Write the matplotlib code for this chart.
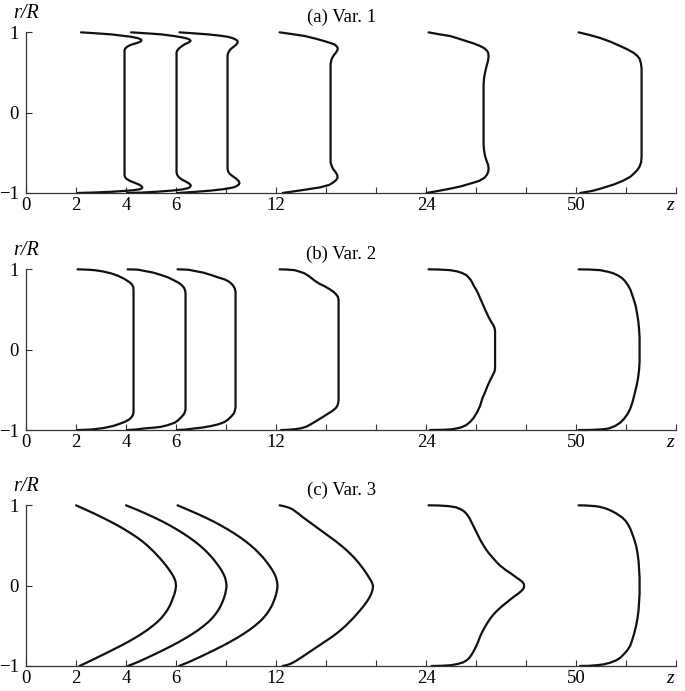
import matplotlib.pyplot as plt

plt.rcParams['font.family'] = ['Liberation Serif', 'DejaVu Serif']

# z stations, placed one tick apart on the drawn axis
stations = [1, 2, 3, 5, 8, 11]
tick_pos = [0, 1, 2, 3, 5, 8, 11]
tick_text = ['0', '2', '4', '6', '12', '24', '50']

# ---- (a) Var. 1 : profiles (r/R, velocity offset) ----
a1_r = [1, .99, .975, .96, .945, .93, .915, .9, .885, .87, .855, .84, .82, .8, .78, 0,
        -.78, -.8, -.82, -.85, -.87, -.89, -.91, -.93, -.945, -.955, -.965, -.975, -.985, -.993, -1]
a1_u = [.1, .35, .7, .9, 1.1, 1.22, 1.29, 1.31, 1.29, 1.23, 1.15, 1.08, 1.02, .985, .97, .97,
        .97, .98, 1.0, 1.08, 1.16, 1.24, 1.3, 1.325, 1.31, 1.26, 1.15, .95, .7, .4, .03]
a2_r = [1, .99, .975, .955, .94, .925, .91, .895, .88, .865, .85, .825, .8, .775, .75, 0,
        -.74, -.77, -.8, -.83, -.86, -.885, -.905, -.925, -.94, -.955, -.97, -.985, -.995, -1]
a2_u = [.1, .35, .7, .95, 1.1, 1.21, 1.27, 1.29, 1.27, 1.22, 1.17, 1.11, 1.06, 1.025, 1.01, 1.01,
        1.01, 1.02, 1.05, 1.11, 1.2, 1.27, 1.295, 1.28, 1.24, 1.13, .92, .6, .3, .03]
a3_r = [1, .99, .975, .96, .945, .93, .915, .9, .885, .865, .845, .82, .79, .76, .73, .7, 0,
        -.7, -.73, -.76, -.79, -.82, -.85, -.875, -.895, -.915, -.93, -.95, -.97, -.985, -1]
a3_u = [.07, .3, .63, .86, 1.03, 1.12, 1.18, 1.22, 1.235, 1.225, 1.2, 1.15, 1.09, 1.055, 1.035, 1.03, 1.03,
        1.03, 1.04, 1.07, 1.13, 1.2, 1.25, 1.27, 1.255, 1.21, 1.15, .98, .7, .4, .03]
a4_r = [1, .98, .955, .92, .89, .865, .845, .82, .8, .775, .75, .72, .68, .64, .6, 0,
        -.62, -.66, -.7, -.74, -.78, -.81, -.84, -.87, -.9, -.93, -.96, -.98, -1]
a4_u = [.07, .3, .57, .8, .97, 1.1, 1.18, 1.22, 1.235, 1.225, 1.2, 1.16, 1.12, 1.1, 1.09, 1.09,
        1.09, 1.11, 1.14, 1.19, 1.225, 1.23, 1.2, 1.14, 1.06, .88, .57, .35, .13]
a5_r = [1, .975, .954, .92, .89, .86, .83, .8, .77, .74, .7, .65, .58, .5, .43, .35, 0,
        -.4, -.47, -.54, -.6, -.65, -.69, -.73, -.77, -.81, -.85, -.88, -.92, -.95, -.97, -.99, -1]
a5_u = [.05, .27, .48, .66, .81, .96, 1.08, 1.17, 1.22, 1.245, 1.25, 1.24, 1.21, 1.18, 1.16, 1.15, 1.15,
        1.15, 1.16, 1.18, 1.21, 1.24, 1.25, 1.245, 1.22, 1.17, 1.06, .9, .68, .45, .28, .1, .01]
a6_r = [1, .97, .93, .88, .83, .79, .745, .71, .67, .62, .55, .45, 0,
        -.55, -.62, -.67, -.71, -.75, -.8, -.85, -.895, -.94, -.97, -.99, -1]
a6_u = [.05, .25, .48, .7, .88, 1.02, 1.15, 1.22, 1.27, 1.295, 1.31, 1.31, 1.31,
        1.31, 1.3, 1.27, 1.23, 1.17, 1.08, .93, .75, .52, .35, .18, .08]

# ---- (b) Var. 2 ----
b1_r = [1, .998, .995, .99, .975, .95, .92, .88, .84, .81, .78, .74, 0,
        -.78, -.81, -.84, -.87, -.9, -.93, -.95, -.975, -.99, -.997, -1]
b1_u = [.03, .15, .25, .37, .53, .7, .84, .97, 1.07, 1.12, 1.145, 1.15, 1.15,
        1.15, 1.14, 1.11, 1.06, .97, .84, .74, .55, .37, .2, .03]
b2_r = [1, .998, .995, .98, .96, .93, .9, .86, .83, .8, .77, .74, .7, 0,
        -.74, -.77, -.8, -.83, -.85, -.88, -.91, -.94, -.96, -.97, -.98, -.995, -1]
b2_u = [.03, .15, .25, .37, .54, .7, .84, .97, 1.06, 1.12, 1.16, 1.18, 1.19, 1.19,
        1.19, 1.18, 1.16, 1.12, 1.09, 1.04, .97, .83, .7, .57, .37, .18, .03]
b3_r = [1, .998, .995, .98, .96, .93, .9, .875, .85, .825, .8, .76, .72, 0,
        -.72, -.76, -.79, -.82, -.84, -.87, -.9, -.93, -.95, -.97, -.98, -.995, -1]
b3_u = [.03, .15, .25, .37, .54, .7, .84, .97, 1.05, 1.1, 1.14, 1.175, 1.19, 1.19,
        1.19, 1.175, 1.16, 1.12, 1.09, 1.04, .97, .84, .7, .52, .37, .18, .03]
b4_r = [1, .998, .99, .97, .95, .91, .86, .82, .79, .75, .72, .69, .66, .62, 0,
        -.63, -.67, -.7, -.73, -.77, -.8, -.84, -.89, -.93, -.96, -.98, -.99, -.998, -1]
b4_u = [.07, .2, .37, .48, .57, .67, .77, .87, .97, 1.08, 1.15, 1.2, 1.235, 1.25, 1.25,
        1.25, 1.24, 1.225, 1.19, 1.11, 1.03, .93, .8, .69, .6, .49, .37, .22, .1]
b5_r = [1, .998, .99, .975, .955, .93, .9, .87, .84, .8, .75, .7, .6, .5, .42, .36, .3, .27, .23, 0,
        -.23, -.27, -.31, -.37, -.45, -.53, -.6, -.7, -.78, -.85, -.9, -.94, -.97, -.99, -.997, -1]
b5_u = [.05, .25, .48, .62, .72, .8, .85, .89, .92, .95, 1.0, 1.04, 1.11, 1.18, 1.24, 1.29, 1.35, 1.37, 1.38, 1.38,
        1.38, 1.37, 1.34, 1.29, 1.23, 1.18, 1.13, 1.08, 1.02, .95, .88, .8, .69, .53, .35, .08]
b6_r = [1, .998, .99, .97, .95, .92, .89, .86, .8, .74, .65, .55, .45, .35, .25, .15, 0,
        -.15, -.25, -.35, -.45, -.55, -.65, -.74, -.8, -.86, -.91, -.95, -.98, -.99, -.997, -1, -1]
b6_u = [.05, .25, .48, .64, .75, .85, .92, .97, 1.04, 1.09, 1.14, 1.19, 1.22, 1.245, 1.26, 1.27, 1.27,
        1.27, 1.26, 1.24, 1.21, 1.17, 1.13, 1.08, 1.03, .96, .88, .78, .66, .55, .38, .2, .05]

# ---- (c) Var. 3 ----
c_r = [1, .95, .9, .85, .8, .75, .7, .65, .6, .55, .5, .45, .4, .35, .3, .25, .2, .15, .1, .05, 0,
       -.05, -.1, -.15, -.2, -.25, -.3, -.35, -.4, -.45, -.5, -.55, -.6, -.65, -.7, -.75, -.8, -.85, -.9, -.95, -1]
c1_u = [0, .18, .355, .52, .68, .83, .97, 1.1, 1.22, 1.33, 1.425, 1.51, 1.59, 1.665, 1.735, 1.8, 1.86, 1.915, 1.96, 1.99, 2.0,
        1.99, 1.97, 1.94, 1.91, 1.875, 1.83, 1.775, 1.71, 1.63, 1.535, 1.43, 1.31, 1.18, 1.04, .89, .73, .57, .405, .24, .07]
c2_u = [0, .2, .385, .56, .725, .875, 1.015, 1.145, 1.265, 1.375, 1.475, 1.565, 1.645, 1.72, 1.785, 1.845, 1.9, 1.945, 1.98, 2.0, 2.01,
        2.0, 1.985, 1.96, 1.93, 1.895, 1.85, 1.795, 1.73, 1.65, 1.555, 1.45, 1.33, 1.2, 1.06, .91, .75, .585, .415, .24, .04]
c3_u = [.03, .22, .405, .58, .745, .895, 1.035, 1.165, 1.285, 1.395, 1.495, 1.585, 1.665, 1.74, 1.805, 1.865, 1.92, 1.965, 2.0, 2.02, 2.03,
        2.02, 2.005, 1.98, 1.95, 1.915, 1.87, 1.815, 1.75, 1.67, 1.575, 1.47, 1.35, 1.22, 1.08, .93, .77, .605, .435, .26, .06]
c4_r = [1, .99, .97, .95, .9, .85, .8, .75, .7, .65, .6, .55, .5, .45, .4, .35, .3, .25, .2, .15, .1, .05, 0,
        -.05, -.1, -.15, -.2, -.25, -.3, -.35, -.4, -.45, -.5, -.55, -.6, -.65, -.7, -.75, -.8, -.85, -.9, -.94, -.97, -.99, -1]
c4_u = [.07, .15, .26, .33, .44, .54, .65, .76, .87, .98, 1.09, 1.2, 1.3, 1.395, 1.48, 1.56, 1.63, 1.695, 1.755, 1.81, 1.86, 1.91, 1.94,
        1.93, 1.905, 1.865, 1.815, 1.755, 1.69, 1.62, 1.55, 1.47, 1.39, 1.3, 1.2, 1.09, .97, .85, .73, .61, .49, .39, .3, .21, .13]
c5_r = [1, .998, .99, .975, .955, .93, .9, .85, .8, .75, .7, .65, .6, .55, .5, .45, .4, .35, .3, .25, .2, .15, .1, .07, .045, .02, 0,
        -.025, -.05, -.075, -.1, -.15, -.2, -.25, -.3, -.35, -.4, -.45, -.5, -.55, -.6, -.65, -.7, -.75, -.8, -.85, -.9,
        -.93, -.955, -.975, -.99, -.998, -1]
c5_u = [.05, .25, .45, .6, .68, .75, .8, .86, .9, .94, .98, 1.02, 1.06, 1.1, 1.15, 1.2, 1.26, 1.33, 1.4, 1.48, 1.58, 1.7, 1.81, 1.88, 1.93, 1.955, 1.96,
        1.955, 1.93, 1.89, 1.84, 1.73, 1.63, 1.53, 1.44, 1.36, 1.295, 1.24, 1.19, 1.145, 1.105, 1.07, 1.04, 1.005, .965, .92, .865,
        .81, .74, .63, .5, .3, .11]
c6_r = [1, .998, .99, .98, .96, .93, .9, .85, .8, .75, .7, .6, .5, .4, .3, .2, .1, 0,
        -.1, -.2, -.3, -.4, -.5, -.6, -.7, -.75, -.8, -.85, -.9, -.93, -.96, -.98, -.99, -.998, -1]
c6_u = [.05, .2, .38, .48, .6, .71, .8, .92, 1.0, 1.05, 1.09, 1.15, 1.2, 1.23, 1.25, 1.26, 1.27, 1.27,
        1.27, 1.26, 1.25, 1.23, 1.2, 1.16, 1.11, 1.08, 1.03, .96, .88, .8, .68, .55, .42, .25, .08]

panels = [
    ('(a) Var. 1', 0.7207, [(a1_r, a1_u), (a2_r, a2_u), (a3_r, a3_u), (a4_r, a4_u), (a5_r, a5_u), (a6_r, a6_u)]),
    ('(b) Var. 2', 0.3777, [(b1_r, b1_u), (b2_r, b2_u), (b3_r, b3_u), (b4_r, b4_u), (b5_r, b5_u), (b6_r, b6_u)]),
    ('(c) Var. 3', 0.0362, [(c_r, c1_u), (c_r, c2_u), (c_r, c3_u), (c4_r, c4_u), (c5_r, c5_u), (c6_r, c6_u)]),
]

fig = plt.figure(figsize=(6.85, 6.91), dpi=100)

for title, bottom, curves in panels:
    ax = fig.add_axes([0.038, bottom, 0.949, 0.2325])
    for s, (rr, uu) in zip(stations, curves):
        ax.plot([s + u for u in uu], rr, color='#111111', lw=1.6, clip_on=False,
                solid_joinstyle='round', solid_capstyle='round')

    ax.set_xlim(0, 13)
    ax.set_ylim(-1, 1)
    ax.spines['top'].set_visible(False)
    ax.spines['right'].set_visible(False)
    for side in ['left', 'bottom']:
        ax.spines[side].set_color('#333333')
        ax.spines[side].set_linewidth(0.9)

    ax.set_xticks(range(14))
    ax.set_xticklabels([tick_text[tick_pos.index(i)] if i in tick_pos else '' for i in range(14)])
    ax.set_yticks([-1, 0, 1])
    ax.set_yticklabels(['\u22121', '0', '1'])
    ax.tick_params(direction='in', length=4.5, width=0.8, color='#333333', labelsize=13.5)
    ax.tick_params(axis='x', pad=3)
    ax.tick_params(axis='y', pad=5)

    ax.text(0.485, 1.065, title, transform=ax.transAxes, ha='center', va='baseline', fontsize=13.5)
    ax.text(0.0, 1.09, 'r/R', transform=ax.transAxes, ha='center', va='baseline',
            fontsize=14.5, fontstyle='italic')
    ax.annotate('z', xy=(12.88, 0), xycoords=('data', 'axes fraction'), xytext=(0, -3),
                textcoords='offset points', ha='center', va='top', fontsize=14, fontstyle='italic')

fig.savefig('out.png', dpi=100)
